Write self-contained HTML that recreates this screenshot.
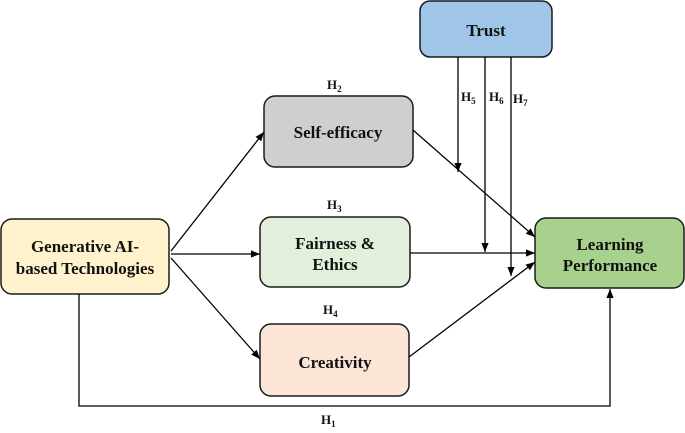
<!DOCTYPE html>
<html><head><style>body{margin:0;background:#fff} svg text{font-family:"Liberation Serif","DejaVu Serif",serif;font-weight:bold}</style></head><body>
<svg width="685" height="428" xmlns="http://www.w3.org/2000/svg">
<defs><marker id="a" viewBox="0 0 10 10" refX="10" refY="5" markerWidth="7" markerHeight="7" orient="auto"><path d="M0,1 L10,5 L0,9 z" fill="#000"/></marker></defs>
<g stroke="#1a1a1a" stroke-width="1.5">
<rect x="420" y="1" width="132" height="56" rx="10" fill="#9fc5e8"/>
<rect x="264" y="96" width="149" height="71" rx="11" fill="#d0cece"/>
<rect x="260" y="217" width="150" height="70" rx="11" fill="#e2efda"/>
<rect x="260" y="324" width="149" height="72" rx="11" fill="#fbe5d6"/>
<rect x="1" y="219" width="168" height="75" rx="11" fill="#fff2cc"/>
<rect x="535" y="218" width="149" height="70" rx="11" fill="#a9d18e"/>
</g>
<g stroke="#000" stroke-width="1.3" fill="none" marker-end="url(#a)">
<line x1="458" y1="57" x2="458" y2="172"/>
<line x1="485" y1="57" x2="485" y2="252"/>
<line x1="511" y1="57" x2="511" y2="276"/>
<line x1="171" y1="251" x2="264" y2="132"/>
<line x1="171" y1="254" x2="260" y2="254"/>
<line x1="171" y1="258" x2="260" y2="359"/>
<line x1="413" y1="130" x2="535" y2="237"/>
<line x1="410" y1="253" x2="535" y2="253"/>
<line x1="409" y1="357" x2="535" y2="262"/>
<polyline points="79,294 79,406 610,406 610,289"/>
</g>
<g font-size="17" text-anchor="middle" fill="#111">
<text x="486" y="36">Trust</text>
<text x="338" y="138">Self-efficacy</text>
<text x="335" y="249">Fairness &amp;</text>
<text x="335" y="270">Ethics</text>
<text x="335" y="368">Creativity</text>
<text x="85" y="252">Generative AI-</text>
<text x="85" y="274">based Technologies</text>
<text x="610" y="250">Learning</text>
<text x="610" y="271">Performance</text>
</g>
<g font-size="13" fill="#111">
<text x="327" y="89">H<tspan font-size="9" dy="3">2</tspan></text>
<text x="327" y="209">H<tspan font-size="9" dy="3">3</tspan></text>
<text x="323" y="314">H<tspan font-size="9" dy="3">4</tspan></text>
<text x="321" y="424">H<tspan font-size="9" dy="3">1</tspan></text>
<text x="461" y="101">H<tspan font-size="9" dy="3">5</tspan></text>
<text x="489" y="101">H<tspan font-size="9" dy="3">6</tspan></text>
<text x="513" y="103">H<tspan font-size="9" dy="3">7</tspan></text>
</g>
</svg>
</body></html>
